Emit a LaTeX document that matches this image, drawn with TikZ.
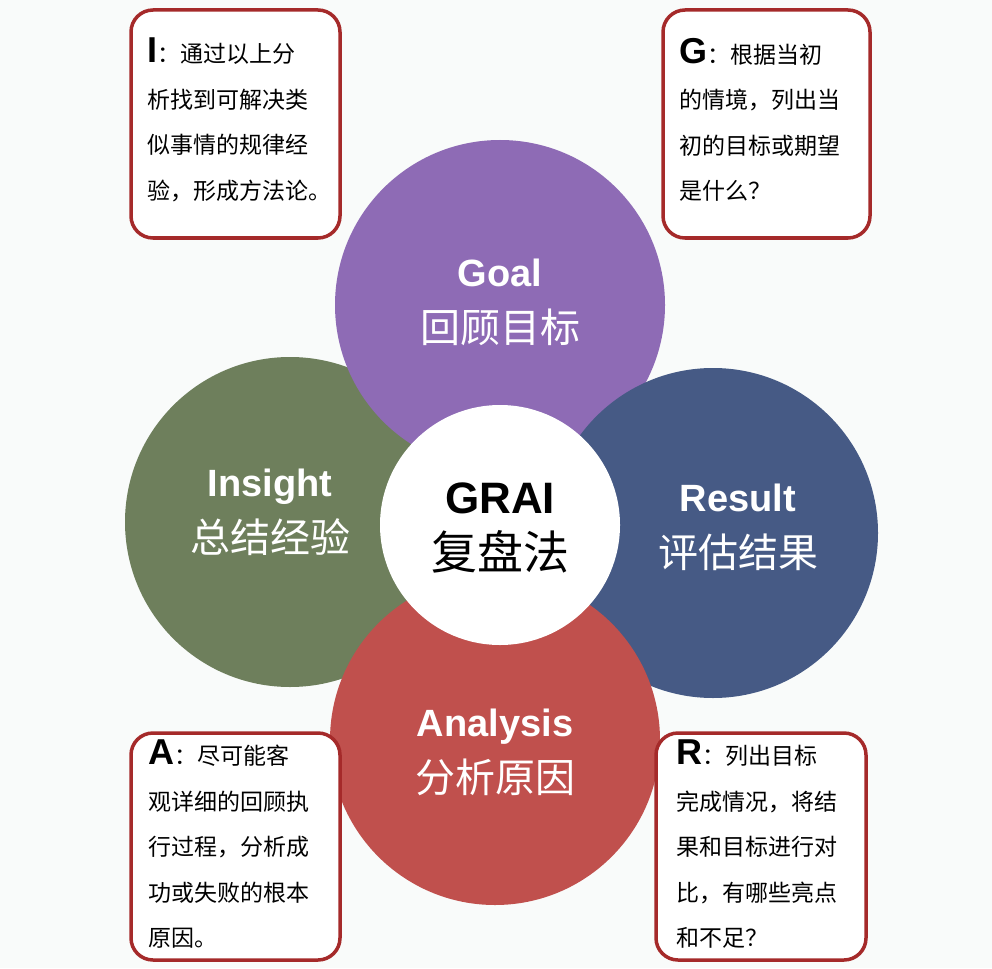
\documentclass[tikz,border=0pt]{standalone}
\usepackage{fontspec}
\setmainfont{Liberation Sans}
\newfontfamily\cjk{Noto Sans CJK SC}
\definecolor{cg}{HTML}{8E6BB5}
\definecolor{ci}{HTML}{6E7F5C}
\definecolor{cr}{HTML}{465A85}
\definecolor{ca}{HTML}{C0504D}
\definecolor{bd}{HTML}{A52A2A}
\definecolor{bg}{HTML}{F9FBFA}
\begin{document}
\begin{tikzpicture}[x=1pt,y=-1pt,
  circ/.style={circle,minimum size=330pt,inner sep=0pt},
  ctext/.style={text=white,align=center,font=\fontsize{38}{56}\selectfont\bfseries},
  box/.style={draw=bd,line width=3.5pt,rounded corners=22pt,fill=white},
  btext/.style={anchor=north west,align=left,font=\cjk\fontsize{23}{45.5}\selectfont,text width=195pt,inner sep=0pt}]
\fill[bg] (0,0) rectangle (992,968);
\node[circ,fill=ci] (ci) at (290,522) {};
\node[circ,fill=cg] (cg) at (500,305) {};
\node[circ,fill=cr] (cr) at (713,533) {};
\node[circ,fill=ca] (ca) at (495,740) {};
\node[circle,fill=white,minimum size=240pt,inner sep=0pt] (cc) at (500,525) {};
\node[ctext] at (500,302) {Goal\\{\cjk\mdseries\fontsize{40}{40}\selectfont 回顾目标}};
\node[ctext] at (270,512) {Insight\\{\cjk\mdseries\fontsize{40}{40}\selectfont 总结经验}};
\node[ctext] at (738,527) {Result\\{\cjk\mdseries\fontsize{40}{40}\selectfont 评估结果}};
\node[ctext] at (495,752) {Analysis\\{\cjk\mdseries\fontsize{40}{40}\selectfont 分析原因}};
\node[align=center,font=\fontsize{44}{56}\selectfont\bfseries] at (500,528) {GRAI\\{\cjk\mdseries\fontsize{46}{46}\selectfont 复盘法}};
\newcommand\bigL[1]{{\rmfamily\fontsize{36}{36}\selectfont\bfseries #1}}
\draw[box] (131,10) rectangle (340,238);
\node[btext] at (147,38) {\bigL{I}：通过以上分\\析找到可解决类\\似事情的规律经\\验，形成方法论。};
\draw[box] (663,10) rectangle (870,238);
\node[btext] at (679,38) {\bigL{G}：根据当初\\的情境，列出当\\初的目标或期望\\是什么？};
\draw[box] (131,733) rectangle (340,960);
\node[btext] at (148,740) {\bigL{A}：尽可能客\\观详细的回顾执\\行过程，分析成\\功或失败的根本\\原因。};
\draw[box] (656,733) rectangle (866,960);
\node[btext] at (676,740) {\bigL{R}：列出目标\\完成情况，将结\\果和目标进行对\\比，有哪些亮点\\和不足？};
\end{tikzpicture}
\end{document}
